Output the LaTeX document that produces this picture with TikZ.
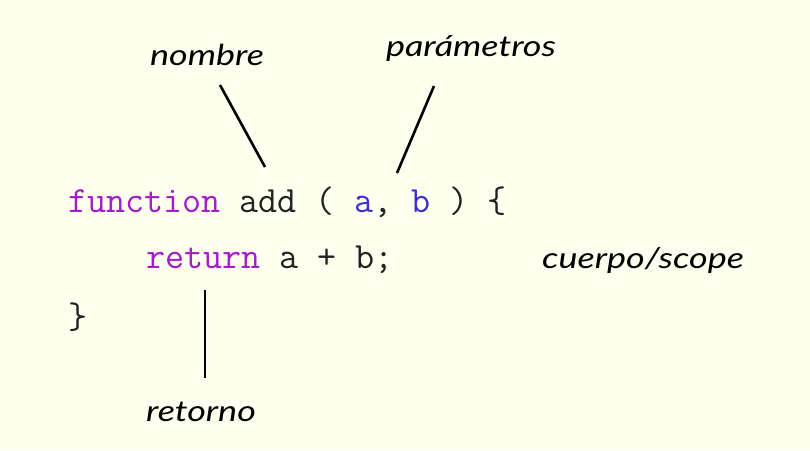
\documentclass[tikz,border=0pt]{standalone}
\usepackage{fontspec}
\usepackage{graphicx}
\newfontfamily\handfont{Lato Italic}
\definecolor{bgcream}{HTML}{FFFFF0}
\definecolor{kwpurple}{HTML}{A41CC8}
\definecolor{parblue}{HTML}{3A2FD0}
\definecolor{codeblack}{HTML}{222222}
\newcommand{\handtext}[1]{\scalebox{1.24}[1]{#1}}
\begin{document}
\begin{tikzpicture}[x=1pt,y=-1pt,
  code/.style={anchor=base west,inner sep=0pt,font=\ttfamily\fontsize{37}{44}\selectfont,text=codeblack},
  hand/.style={inner sep=0pt,font=\handfont\fontsize{29}{36}\selectfont,text=black},
  pointer/.style={draw=black,line width=2.6pt}]
\fill[bgcream] (0,0) rectangle (810,450);
\useasboundingbox (0,0) rectangle (810,450);
% code
\node[code] (l1) at (68,212) {\textcolor{kwpurple}{function} add ( \textcolor{parblue}{a}, \textcolor{parblue}{b} ) \{};
\node[code] (l2) at (146,268) {\textcolor{kwpurple}{return} a + b;};
\node[code] (l3) at (68,328) {\}};
% labels
\node[hand] (nombre) at (207,55) {\handtext{nombre}};
\node[hand] (param) at (471,48) {\handtext{parámetros}};
\node[hand] (cuerpo) at (643,260) {\handtext{cuerpo/scope}};
\node[hand] (retorno) at (201,412) {\handtext{retorno}};
% connector endpoints
\coordinate (n1) at (220,85);
\coordinate (n2) at (265,167);
\coordinate (p1) at (434,86);
\coordinate (p2) at (397,173);
\coordinate (r1) at (205,290);
\coordinate (r2) at (205,378);
\draw[pointer] (n1) -- (n2);
\draw[pointer] (p1) -- (p2);
\draw[pointer] (r1) -- (r2);
\end{tikzpicture}
\end{document}
